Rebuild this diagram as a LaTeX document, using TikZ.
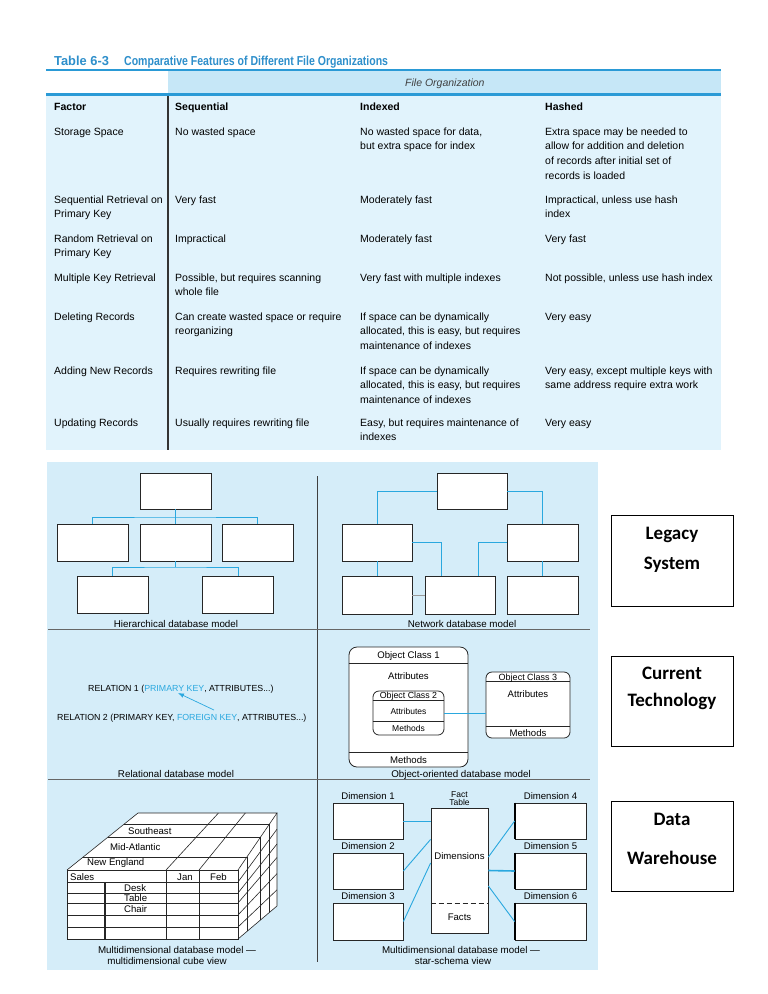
\documentclass[tikz,border=0pt]{standalone}
\usepackage{fontspec}
\setmainfont{Liberation Sans}
\newfontfamily\calib{Carlito}
\newfontfamily\condfont[FakeStretch=0.81]{Liberation Sans}
\usetikzlibrary{arrows.meta,calc}
\definecolor{tblue}{HTML}{2A9AD6}
\definecolor{ttitle}{HTML}{2E8FCB}
\definecolor{hband}{HTML}{C6E7F7}
\definecolor{tbody}{HTML}{E1F3FC}
\definecolor{panel}{HTML}{D5EDF9}
\definecolor{cblue}{HTML}{2AA8DF}
\newcommand\tabfont{\fontsize{10.5}{14.7}\selectfont}
\newcommand\titlefont{\condfont\bfseries\fontsize{13}{15}\selectfont}
\newcommand\capfont{\fontsize{9.8}{11}\selectfont}
\newcommand\smfont{\fontsize{9.6}{11}\selectfont}
\newcommand\relfont{\fontsize{8.8}{10}\selectfont}
\newcommand\tnyfont{\fontsize{8.5}{9}\selectfont}
\tikzset{
  tab/.style={anchor=north west, inner sep=0pt, align=left, font=\tabfont},
  hdr/.style={anchor=base west, inner sep=0pt, font=\tabfont\bfseries},
  box/.style={draw=black!85, line width=0.8pt, fill=white, inner sep=0pt},
  conn/.style={draw=cblue, line width=0.9pt},
  capt/.style={anchor=base, inner sep=0pt, font=\capfont},
  lbl/.style={anchor=base, inner sep=0pt, font=\smfont},
  ooc/.style={draw=black!85, line width=0.8pt, fill=white, rounded corners=8pt, inner sep=0pt},
  cube/.style={draw=black!85, line width=0.6pt},
  sidebox/.style={draw=black, line width=1pt, inner sep=0pt},
  sidetxt/.style={inner sep=0pt, font=\calib\bfseries\fontsize{19}{22}\selectfont},
}
\newcommand\cell[4]{\node[tab] (#1) at (#2,#3-10.3) {\strut #4};}
\begin{document}
\begin{tikzpicture}[x=1pt,y=-1pt]
\useasboundingbox (0,0) rectangle (768,994);
\fill[white] (0,0) rectangle (768,994);

% ---------- table ----------
\node[anchor=base west, inner sep=0pt, text=ttitle, font=\titlefont] (ttl1) at (54,65) {\scalebox{1.22}[1]{Table 6-3}};
\node[anchor=base west, inner sep=0pt, text=ttitle, font=\titlefont] (ttl2) at (124,65) {Comparative Features of Different File Organizations};
\fill[hband] (168,71) rectangle (721,93);
\fill[tbody] (46,96) rectangle (721,450);
\draw[tblue, line width=2pt] (46,70) -- (721,70);
\draw[tblue, line width=3pt] (46,94.5) -- (721,94.5);
\draw[black!80, line width=1.3pt] (168,96) -- (168,450);
\node[anchor=base west, inner sep=0pt, font=\tabfont\itshape, text=black!75] (forg) at (405,86) {File Organization};

\node[hdr] (hf) at (54,110.5) {Factor};
\node[hdr] (hs) at (175,110.5) {Sequential};
\node[hdr] (hi) at (360,110.5) {Indexed};
\node[hdr] (hh) at (545,110.5) {Hashed};

\cell{a1}{54}{135}{Storage Space}
\cell{a2}{175}{135}{No wasted space}
\cell{a3}{360}{135}{No wasted space for data,\\but extra space for index}
\cell{a4}{545}{135}{Extra space may be needed to\\allow for addition and deletion\\of records after initial set of\\records is loaded}

\cell{b1}{54}{203}{Sequential Retrieval on\\Primary Key}
\cell{b2}{175}{203}{Very fast}
\cell{b3}{360}{203}{Moderately fast}
\cell{b4}{545}{203}{Impractical, unless use hash\\index}

\cell{c1}{54}{242}{Random Retrieval on\\Primary Key}
\cell{c2}{175}{242}{Impractical}
\cell{c3}{360}{242}{Moderately fast}
\cell{c4}{545}{242}{Very fast}

\cell{d1}{54}{281}{Multiple Key Retrieval}
\cell{d2}{175}{281}{Possible, but requires scanning\\whole file}
\cell{d3}{360}{281}{Very fast with multiple indexes}
\cell{d4}{545}{281}{Not possible, unless use hash index}

\cell{e1}{54}{320}{Deleting Records}
\cell{e2}{175}{320}{Can create wasted space or require\\reorganizing}
\cell{e3}{360}{320}{If space can be dynamically\\allocated, this is easy, but requires\\maintenance of indexes}
\cell{e4}{545}{320}{Very easy}

\cell{f1}{54}{374}{Adding New Records}
\cell{f2}{175}{374}{Requires rewriting file}
\cell{f3}{360}{374}{If space can be dynamically\\allocated, this is easy, but requires\\maintenance of indexes}
\cell{f4}{545}{374}{Very easy, except multiple keys with\\same address require extra work}

\cell{g1}{54}{426}{Updating Records}
\cell{g2}{175}{426}{Usually requires rewriting file}
\cell{g3}{360}{426}{Easy, but requires maintenance of\\indexes}
\cell{g4}{545}{426}{Very easy}

% ---------- figure panel ----------
\fill[panel] (47,462) rectangle (598,970);
\draw[black!75, line width=0.8pt] (317,476) -- (317,962);
\draw[black!60, line width=0.7pt] (48,629) -- (590,629);
\draw[black!60, line width=0.7pt] (48,779) -- (590,779);

% hierarchical
\node[box, minimum width=71pt, minimum height=36pt] (h1) at (175.5,491) {};
\node[box, minimum width=71pt, minimum height=37pt] (h2) at (92.5,542.5) {};
\node[box, minimum width=71pt, minimum height=37pt] (h3) at (175.5,542.5) {};
\node[box, minimum width=71pt, minimum height=37pt] (h4) at (257.5,542.5) {};
\node[box, minimum width=71pt, minimum height=37pt] (h5) at (112.5,594.5) {};
\node[box, minimum width=71pt, minimum height=37pt] (h6) at (238,594.5) {};
\coordinate (hj1) at (175.5,517);
\coordinate (hj2) at (175.5,567);
\draw[conn] (h1.south) -- (hj1);
\draw[conn] (h2.north) |- (hj1) -| (h4.north);
\draw[conn] (hj1) -- (h3.north);
\draw[conn] (h3.south) -- (hj2);
\draw[conn] (h5.north) |- (hj2) -| (h6.north);
\node[capt] (hcap) at (176,627) {Hierarchical database model};

% network
\node[box, minimum width=70pt, minimum height=36pt] (n1) at (472,491) {};
\node[box, minimum width=70pt, minimum height=37pt] (n2) at (377,542.5) {};
\node[box, minimum width=71pt, minimum height=37pt] (n3) at (542.5,542.5) {};
\node[box, minimum width=70pt, minimum height=38pt] (n4) at (377,595) {};
\node[box, minimum width=70pt, minimum height=38pt] (n5) at (460,595) {};
\node[box, minimum width=71pt, minimum height=38pt] (n6) at (542.5,595) {};
\draw[conn] (n1.west) -| (n2.north);
\draw[conn] (n1.east) -| (n3.north);
\draw[conn] (n2.east) -| ([xshift=-19pt]n5.north);
\draw[conn] (n3.west) -| ([xshift=18pt]n5.north);
\draw[conn] (n2.south) -- (n4.north);
\draw[conn] (n3.south) -- (n6.north);
\draw[draw=black!40, line width=0.9pt] (n4.east) -- (n5.west);
\node[capt] (ncap) at (462,627) {Network database model};

% relational
\node[anchor=base west, inner sep=0pt, font=\relfont] (r1) at (88,691) {RELATION 1 (\textcolor{cblue}{PRIMARY KEY}, ATTRIBUTES...)};
\node[anchor=base west, inner sep=0pt, font=\relfont] (r2) at (57,720) {RELATION 2 (PRIMARY KEY, \textcolor{cblue}{FOREIGN KEY}, ATTRIBUTES...)};
\coordinate (fk) at (214,710);
\coordinate (pk) at (178,693);
\draw[cblue, line width=0.7pt, -{Latex[length=6pt,width=4.5pt]}] (fk) -- (pk);
\node[capt] (rcap) at (176,777) {Relational database model};

% object-oriented
\node[ooc, minimum width=119pt, minimum height=120pt] (oc1) at (408.5,707) {};
\draw[black!85, line width=0.8pt] (oc1.west |- 0,663) -- (oc1.east |- 0,663);
\draw[black!85, line width=0.8pt] (oc1.west |- 0,752) -- (oc1.east |- 0,752);
\node[lbl] (oc1t) at (408.5,658.5) {Object Class 1};
\node[lbl] (oc1a) at (408.5,679.5) {Attributes};
\node[lbl] (oc1m) at (408.5,763.5) {Methods};
\node[ooc, rounded corners=6pt, minimum width=71pt, minimum height=44pt] (oc2) at (408.5,713) {};
\draw[black!85, line width=0.8pt] (oc2.west |- 0,700) -- (oc2.east |- 0,700);
\draw[black!85, line width=0.8pt] (oc2.west |- 0,721) -- (oc2.east |- 0,721);
\node[anchor=base, inner sep=0pt, font=\fontsize{8.8}{10}\selectfont] (oc2t) at (408.5,698.5) {Object Class 2};
\node[anchor=base, inner sep=0pt, font=\tnyfont] (oc2a) at (408.5,714) {Attributes};
\node[anchor=base, inner sep=0pt, font=\tnyfont] (oc2m) at (408.5,731) {Methods};
\node[ooc, rounded corners=6pt, minimum width=84pt, minimum height=66pt] (oc3) at (528,705) {};
\draw[black!85, line width=0.8pt] (oc3.west |- 0,681) -- (oc3.east |- 0,681);
\draw[black!85, line width=0.8pt] (oc3.west |- 0,726) -- (oc3.east |- 0,726);
\node[anchor=base, inner sep=0pt, font=\fontsize{9}{10}\selectfont] (oc3t) at (528,680) {Object Class 3};
\node[lbl] (oc3a) at (528,697.5) {Attributes};
\node[lbl] (oc3m) at (528,736) {Methods};
\draw[conn] (oc2.east |- 0,713) -- (oc3.west |- 0,713);
\node[capt] (ocap) at (461,777) {Object-oriented database model};

% cube
\coordinate (FL) at (67,870);
\coordinate (FR) at (238,870);
\coordinate (FBL) at (67,939);
\coordinate (FBR) at (238,939);
\coordinate (BL) at (138,813);
\coordinate (BR) at (277,813);
\coordinate (BRb) at (277,906);
\fill[white] (FL) -- (BL) -- (BR) -- (BRb) -- (FBR) -- (FBL) -- cycle;
\draw[cube] (FL) rectangle (FBR);
\draw[cube] (FL) -- (BL) -- (BR) -- (FR);
\draw[cube] (BR) -- (BRb) -- (FBR);
\foreach \v in {0.228,0.579,0.807}{
  \draw[cube] ($(FL)!\v!(BL)$) -- ($(FR)!\v!(BR)$);
  \draw[cube] ($(FR)!\v!(BR)$) -- ($(FBR)!\v!(BRb)$);
}
\foreach \u in {0.579,0.772}{
  \draw[cube] ($(FL)!\u!(FR)$) -- ($(BL)!\u!(BR)$);
}
\foreach \w in {0.174,0.333,0.478,0.652,0.826}{
  \draw[cube] ($(FR)!\w!(FBR)$) -- ($(BR)!\w!(BRb)$);
}
\foreach \yy in {882,893,903,915,927}{
  \draw[cube] (67,\yy) -- (238,\yy);
}
\draw[cube] (166,870) -- (166,939);
\draw[cube] (199,870) -- (199,939);
\draw[black!85, line width=1.6pt] (105,882) -- (105,939);
\node[anchor=base west, inner sep=0pt, font=\smfont] (sse) at (128,834) {Southeast};
\node[anchor=base west, inner sep=0pt, font=\smfont] (sma) at (110,850) {Mid-Atlantic};
\node[anchor=base west, inner sep=0pt, font=\smfont] (sne) at (87,865) {New England};
\node[anchor=base west, inner sep=0pt, font=\smfont] (ssa) at (70,880) {Sales};
\node[anchor=base west, inner sep=0pt, font=\smfont] (sja) at (177,880) {Jan};
\node[anchor=base west, inner sep=0pt, font=\smfont] (sfe) at (210,880) {Feb};
\node[anchor=base west, inner sep=0pt, font=\smfont] (sde) at (124,891) {Desk};
\node[anchor=base west, inner sep=0pt, font=\smfont] (sta) at (124,901.5) {Table};
\node[anchor=base west, inner sep=0pt, font=\smfont] (sch) at (124,912) {Chair};
\node[capt] (ccap1) at (177,953) {Multidimensional database model ---};
\node[capt] (ccap2) at (167,964.5) {multidimensional cube view};

% star schema
\node[box, minimum width=70pt, minimum height=36pt] (sd1) at (368,821) {};
\node[box, minimum width=70pt, minimum height=36pt] (sd2) at (368,871) {};
\node[box, minimum width=70pt, minimum height=37pt] (sd3) at (368,921.5) {};
\node[box, minimum width=71pt, minimum height=36pt] (sd4) at (550.5,821) {};
\node[box, minimum width=71pt, minimum height=36pt] (sd5) at (550.5,871) {};
\node[box, minimum width=71pt, minimum height=37pt] (sd6) at (550.5,921.5) {};
\foreach \n in {sd4,sd5,sd6}{
  \draw[black, line width=2pt] (\n.north west) -- (\n.south west);
}
\node[box, minimum width=57pt, minimum height=125pt] (fact) at (459.5,870.5) {};
\draw[black!85, line width=0.8pt, dashed, dash pattern=on 5pt off 3pt] (fact.west |- 0,903) -- (fact.east |- 0,903);
\node[lbl] (ldim1) at (368,799.5) {Dimension 1};
\node[lbl] (ldim2) at (368,849.5) {Dimension 2};
\node[lbl] (ldim3) at (368,899.5) {Dimension 3};
\node[lbl] (ldim4) at (550.5,799.5) {Dimension 4};
\node[lbl] (ldim5) at (550.5,849.5) {Dimension 5};
\node[lbl] (ldim6) at (550.5,899.5) {Dimension 6};
\node[anchor=base, inner sep=0pt, font=\tnyfont] (lft1) at (459.5,797) {Fact};
\node[anchor=base, inner sep=0pt, font=\tnyfont] (lft2) at (459.5,805.5) {Table};
\node[lbl] (ldims) at (459.5,859.5) {Dimensions};
\node[lbl] (lfacts) at (459.5,920.5) {Facts};
\draw[conn] (sd1.east) -- (fact.west |- sd1.east);
\draw[conn] (sd2.east) -- (fact.west |- sd1.south);
\draw[conn] (sd3.east) -- ([yshift=7.5pt]fact.west);
\draw[conn] ([yshift=13.5pt]fact.east) -- (sd4.west);
\draw[conn, line width=1.6pt] (fact.east) -- (sd5.west);
\draw[conn] ([yshift=-15.5pt]fact.east) -- (sd6.west);
\node[capt] (scap1) at (461,953) {Multidimensional database model ---};
\node[capt] (scap2) at (453,964.5) {star-schema view};

% ---------- side boxes ----------
\node[sidebox, minimum width=122pt, minimum height=91pt] (legacy) at (672,560.5) {};
\node[sidetxt] (lg1) at (672,535) {Legacy};
\node[sidetxt] (lg2) at (672,565) {System};
\node[sidebox, minimum width=122pt, minimum height=90pt] (current) at (672,701) {};
\node[sidetxt] (ct1) at (672,673) {Current};
\node[sidetxt] (ct2) at (672,701) {Technology};
\node[sidebox, minimum width=122pt, minimum height=90pt] (dwh) at (672,846) {};
\node[sidetxt] (dw1) at (672,819) {Data};
\node[sidetxt] (dw2) at (672,858) {Warehouse};
\end{tikzpicture}
\end{document}
